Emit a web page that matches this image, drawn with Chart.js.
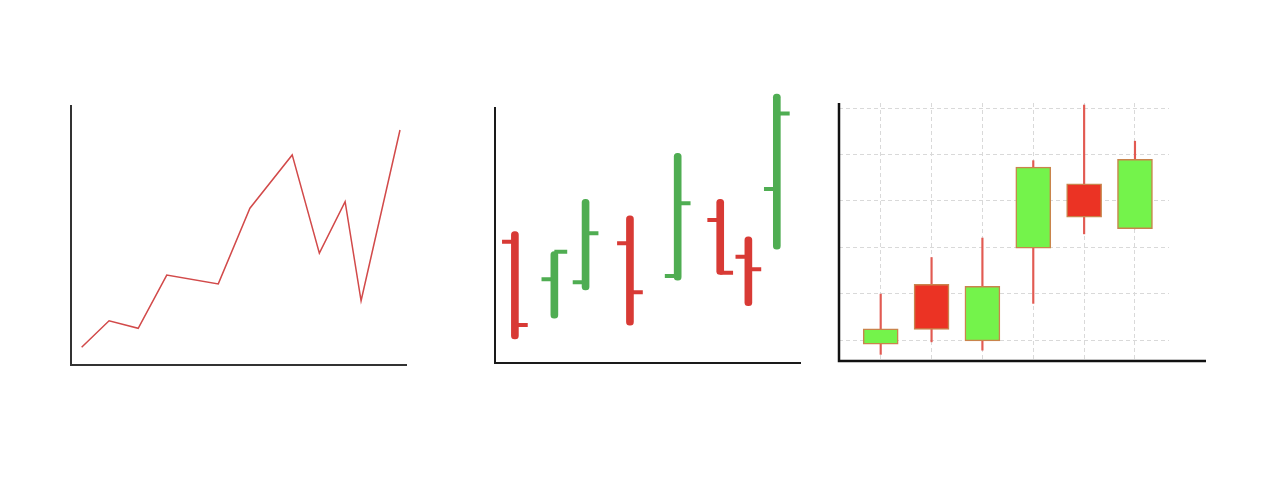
<!DOCTYPE html>
<html>
<head>
<meta charset="utf-8">
<script src="https://cdn.jsdelivr.net/npm/chart.js@4/dist/chart.umd.min.js"></script>
<style>
  html, body { margin: 0; padding: 0; background: #ffffff; }
  body { width: 1280px; height: 489px; position: relative; overflow: hidden; }
  canvas { position: absolute; }
</style>
</head>
<body>
<canvas id="line-chart" width="356" height="280" style="left:61px; top:95px"></canvas>
<canvas id="ohlc-chart" width="331" height="286" style="left:485px; top:87px"></canvas>
<canvas id="candle-chart" width="380" height="278" style="left:829px; top:93px"></canvas>
<script>
// ── Line chart ────────────────────────────────────────────────────────────────
const lineX = [0.38, 1.36, 2.40, 3.42, 5.26, 6.39, 7.90, 8.87, 9.79, 10.36, 11.75];
const lineY = [6.8, 17.0, 14.1, 34.6, 31.2, 60.3, 80.8, 43.0, 62.8, 24.7, 90.4];

// ── OHLC bars ─────────────────────────────────────────────────────────────────
const ohlcX     = [0.65, 1.94, 2.96, 4.41, 5.97, 7.36, 8.28, 9.21];
const ohlcOpen  = [47.4, 32.7, 31.5, 46.8, 34.0, 55.9, 41.5, 68.0];
const ohlcHigh  = [51.3, 43.5, 63.9, 57.5, 81.9, 63.9, 49.3, 105.0];
const ohlcLow   = [9.4, 17.5, 28.5, 14.8, 32.4, 34.6, 22.4, 44.5];
const ohlcClose = [14.8, 43.5, 50.7, 27.6, 62.4, 35.3, 36.6, 97.5];

// ── Candlesticks ──────────────────────────────────────────────────────────────
const candleX     = [1, 2, 3, 4, 5, 6];
const candleOpen  = [0.91, 2.20, 0.98, 2.98, 4.37, 3.40];
const candleHigh  = [1.99, 2.78, 3.20, 4.87, 6.07, 5.29];
const candleLow   = [0.69, 0.96, 0.78, 1.79, 3.29, 3.40];
const candleClose = [1.24, 1.23, 2.16, 4.73, 3.65, 4.90];
const gridValues  = [1, 2, 3, 4, 5, 6];

const RED = '#d83a35';
const GREEN = '#4fad52';
const TICK_LEN = 0.42;

// plain black axis lines along the left and bottom of the plot area
const axisLines = {
    id: 'axisLines',
    afterDraw(chart, args, opts) {
        const { ctx, chartArea: a } = chart;
        ctx.save();
        ctx.strokeStyle = opts.color || '#222';
        ctx.lineWidth = opts.width || 2;
        ctx.beginPath();
        ctx.moveTo(a.left, a.top);
        ctx.lineTo(a.left, a.bottom);
        ctx.lineTo(a.right + (opts.extendRight || 0), a.bottom);
        ctx.stroke();
        ctx.restore();
    }
};

const hiddenScale = (min, max) => ({ type: 'linear', display: false, min, max, offset: false });

document.addEventListener('DOMContentLoaded', function () {
    // Line chart
    new Chart(document.getElementById('line-chart'), {
        type: 'line',
        data: {
            datasets: [{
                data: lineX.map((x, i) => ({ x, y: lineY[i] })),
                borderColor: '#d24a4a',
                borderWidth: 1.5,
                pointRadius: 0,
                tension: 0,
                fill: false
            }]
        },
        options: {
            responsive: false,
            animation: false,
            layout: { padding: 10 },
            plugins: { legend: { display: false }, tooltip: { enabled: false }, axisLines: { color: '#333', width: 2 } },
            scales: { x: hiddenScale(0, 12), y: hiddenScale(0, 100) }
        },
        plugins: [axisLines]
    });

    // OHLC chart: high-low as rounded floating bars, open/close ticks as short lines
    const rising = ohlcX.map((_, i) => ohlcClose[i] >= ohlcOpen[i]);
    const tickData = up => {
        const pts = [];
        ohlcX.forEach((x, i) => {
            if (rising[i] !== up) return;
            pts.push({ x: x - TICK_LEN, y: ohlcOpen[i] }, { x, y: ohlcOpen[i] }, { x, y: null });
            pts.push({ x, y: ohlcClose[i] }, { x: x + TICK_LEN, y: ohlcClose[i] }, { x, y: null });
        });
        return pts;
    };

    new Chart(document.getElementById('ohlc-chart'), {
        data: {
            datasets: [
                {
                    type: 'bar',
                    data: ohlcX.map((x, i) => ({ x, y: [ohlcLow[i], ohlcHigh[i]] })),
                    backgroundColor: rising.map(r => r ? GREEN : RED),
                    barThickness: 7,
                    borderRadius: 3.5,
                    borderSkipped: false,
                    grouped: false,
                    clip: false
                },
                { type: 'line', data: tickData(false), borderColor: RED, borderWidth: 4, pointRadius: 0, spanGaps: false, clip: false },
                { type: 'line', data: tickData(true), borderColor: GREEN, borderWidth: 4, pointRadius: 0, spanGaps: false, clip: false }
            ]
        },
        options: {
            responsive: false,
            animation: false,
            layout: { padding: { top: 20, left: 10, right: 15, bottom: 10 } },
            plugins: { legend: { display: false }, tooltip: { enabled: false }, axisLines: { color: '#1a1a1a', width: 2 } },
            scales: { x: hiddenScale(0, 10), y: hiddenScale(0, 100) }
        },
        plugins: [axisLines]
    });

    // Candlestick chart
    const candleUp = candleX.map((_, i) => candleClose[i] >= candleOpen[i]);
    const gridTicks = scale => { scale.ticks = gridValues.map(v => ({ value: v })); };
    const gridScale = (min, max) => ({
        type: 'linear', min, max, offset: false,
        afterBuildTicks: gridTicks,
        ticks: { display: false },
        grid: { color: '#d9d9d9', lineWidth: 1, drawTicks: false, offset: false },
        border: { display: false, dash: [4, 3] }
    });

    new Chart(document.getElementById('candle-chart'), {
        type: 'bar',
        data: {
            datasets: [
                {
                    data: candleX.map((x, i) => ({ x, y: [candleLow[i], candleHigh[i]] })),
                    backgroundColor: '#e25a52',
                    barThickness: 1.5,
                    grouped: false,
                    order: 2
                },
                {
                    data: candleX.map((x, i) => ({ x, y: [candleOpen[i], candleClose[i]] })),
                    backgroundColor: candleUp.map(u => u ? '#74f34b' : '#eb3324'),
                    borderColor: '#c9844c',
                    borderWidth: 1.5,
                    borderSkipped: false,
                    barThickness: 35,
                    grouped: false,
                    order: 1
                }
            ]
        },
        options: {
            responsive: false,
            animation: false,
            layout: { padding: { top: 10, left: 10, right: 40, bottom: 10 } },
            plugins: { legend: { display: false }, tooltip: { enabled: false }, axisLines: { color: '#111', width: 2.5, extendRight: 37 } },
            scales: { x: gridScale(0.18, 6.669), y: gridScale(0.547, 6.114) }
        },
        plugins: [axisLines]
    });
});
</script>
</body>
</html>
